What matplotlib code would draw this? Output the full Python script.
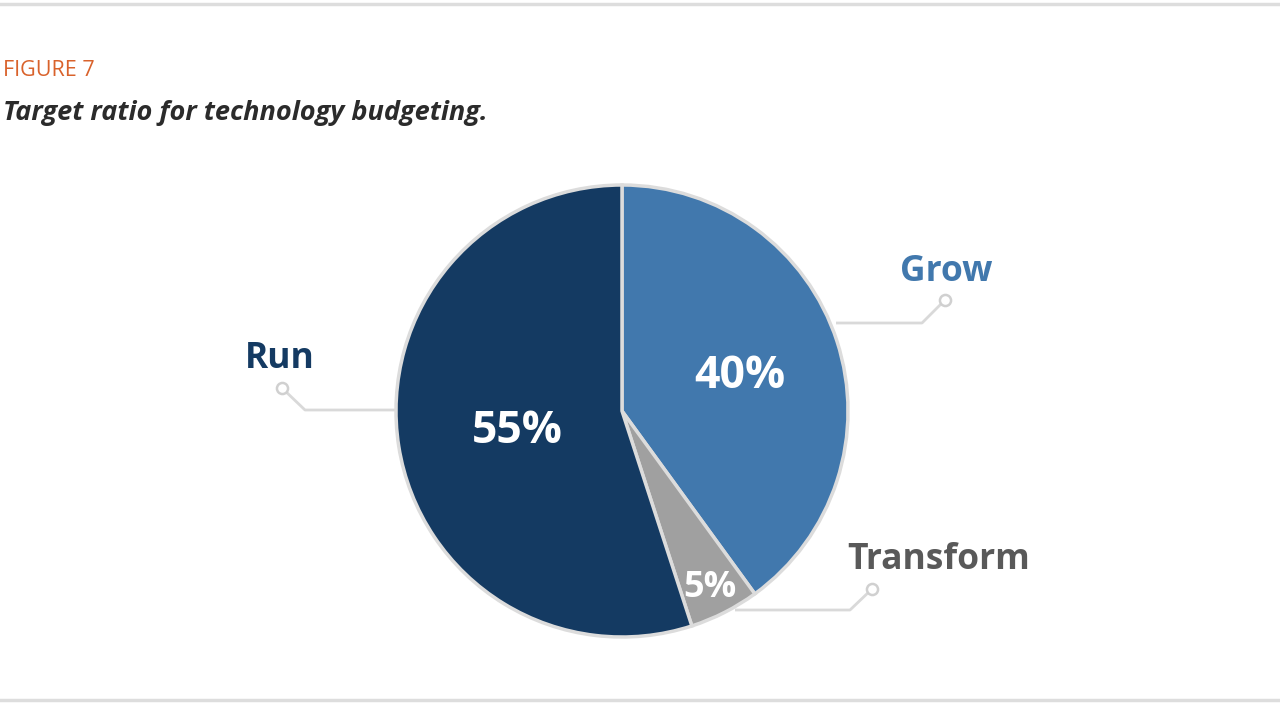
import matplotlib.pyplot as plt
import numpy as np

# data
labels = ["Grow", "Transform", "Run"]
values = [40, 5, 55]
colors = ["#4178AD", "#A0A0A0", "#143A62"]
label_colors = ["#4178AD", "#595959", "#143A62"]

FONT = "Open Sans"

W, H = 1280, 706
fig = plt.figure(figsize=(W / 100, H / 100), dpi=100)
ax = fig.add_axes([0, 0, 1, 1])

cx, cy, r = 622, H - 411, 226
pct_dist = [0.55, 0.86, 0.47]
pct_size = [32, 26, 32]

wedges, _ = ax.pie(values, colors=colors, startangle=90, counterclock=False,
                   center=(cx, cy), radius=r, frame=True,
                   wedgeprops=dict(edgecolor="#DCDCDC", linewidth=2.5))
ax.set_xlim(0, W)
ax.set_ylim(0, H)
ax.set_aspect("equal")
ax.axis("off")

for w, v, d, fs in zip(wedges, values, pct_dist, pct_size):
    ang = np.deg2rad((w.theta1 + w.theta2) / 2)
    ax.text(cx + d * r * np.cos(ang), cy + d * r * np.sin(ang) - 4, f"{v}%",
            ha="center", va="center", color="white", fontsize=fs,
            fontweight="bold", family=FONT)

# category labels with connector lines (pixel layout)
label_pos = [(946, 272), (939, 560), (280, 359)]
connectors = [
    [(836, 323), (922, 323), (945, 300)],
    [(735, 610), (850, 610), (872, 589)],
    [(396, 410), (305, 410), (282, 388)],
]
for lab, col, pos, pts in zip(labels, label_colors, label_pos, connectors):
    xs = [p[0] for p in pts]
    ys = [H - p[1] for p in pts]
    ax.plot(xs, ys, color="#D9D9D9", lw=2, zorder=0.5, solid_capstyle="butt")
    ax.plot(xs[-1], ys[-1], "o", ms=8, mfc="white", mec="#D0D0D0", mew=1.8)
    ax.text(pos[0], H - pos[1], lab, ha="center", va="center", color=col,
            fontsize=25.5, fontweight="bold", family=FONT)

# header
ax.text(3, H - 70, "FIGURE 7", ha="left", va="center", color="#D9622B",
        fontsize=15.5, family=FONT)
ax.text(3, H - 113, "Target ratio for technology budgeting.", ha="left",
        va="center", color="#2B2B2B", fontsize=19.5, fontweight="bold",
        fontstyle="italic", family=FONT)

# rules
ax.plot([0, W], [H - 4, H - 4], color="#DDDDDD", lw=2.5)
ax.plot([0, W], [H - 700, H - 700], color="#DDDDDD", lw=2.5)

fig.savefig("out.png", dpi=100)
